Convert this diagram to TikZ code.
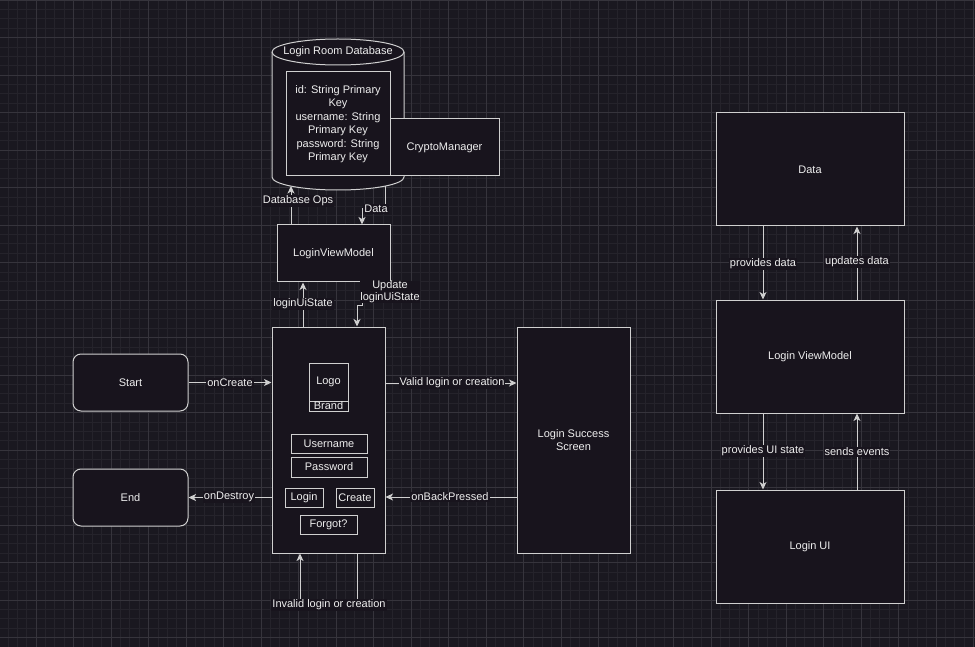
\documentclass[tikz,border=0pt]{standalone}
\usepackage{fontspec}
\setmainfont{Liberation Sans}
\usetikzlibrary{arrows.meta}
\definecolor{canvas}{HTML}{1A1820}
\definecolor{panel}{HTML}{18141D}
\definecolor{fine}{HTML}{25232B}
\definecolor{coarse}{HTML}{36343C}
\definecolor{edge}{HTML}{D0D0D0}
\definecolor{ink}{HTML}{EEEEEE}

\begin{document}
\begin{tikzpicture}[x=1pt,y=-1pt,
  font=\fontsize{11}{13.5}\selectfont,
  box/.style={draw=edge,fill=panel,line width=1pt,text=ink,align=center,inner sep=0pt},
  rbox/.style={box,rounded corners=8pt},
  lbl/.style={fill=panel,text=ink,inner sep=1pt,align=center},
  arr/.style={draw=edge,line width=1pt,-{Stealth[length=7.5pt,width=7pt,inset=2pt]}}]
  \useasboundingbox (0,0) rectangle (975,647);
  \fill[canvas] (0,0) rectangle (975,647);

  % grid
  \foreach \i in {0,...,105} \draw[fine,line width=0.6pt] ({\i*9.375-1.5},0) -- ({\i*9.375-1.5},647);
  \foreach \i in {0,...,70} \draw[fine,line width=0.6pt] (0,{\i*9.375}) -- (975,{\i*9.375});
  \foreach \i in {0,...,26} \draw[coarse,line width=0.8pt] ({\i*37.5-1.5},0) -- ({\i*37.5-1.5},647);
  \foreach \i in {0,...,17} \draw[coarse,line width=0.8pt] (0,{\i*37.5}) -- (975,{\i*37.5});

  % database
  \draw[draw=edge,fill=panel,line width=1pt] (272,52) -- (272,177)
    arc[start angle=180,end angle=0,x radius=66,y radius=13] -- (404,52)
    arc[start angle=0,end angle=-180,x radius=66,y radius=13] -- cycle;
  \draw[edge,line width=1pt] (272,52) arc[start angle=180,end angle=0,x radius=66,y radius=13];
  \node[text=ink] (dbname) at (338,52) {Login Room Database};
  \node[box,minimum width=104,minimum height=104] (fields) at (338,124)
    {id: String Primary\\Key\\username: String\\Primary Key\\password: String\\Primary Key};
  \node[box,minimum width=109,minimum height=57] (crypto) at (444.5,147.5) {CryptoManager};
  \coordinate (dbops) at (291,186);
  \coordinate (dbdata) at (385,186);

  \node[box,minimum width=113,minimum height=57] (lvm) at (333.5,253.5) {LoginViewModel};

  % login screen
  \node[box,minimum width=113,minimum height=226] (screen) at (328.5,440) {};
  \node[box,minimum width=39,minimum height=38] (logo) at (328.5,382) {Logo};
  \node[box,minimum width=39,minimum height=10] (brand) at (328.5,406) {Brand};
  \node[box,minimum width=76,minimum height=19] (user) at (329,443.5) {Username};
  \node[box,minimum width=76,minimum height=20] (pass) at (329,467) {Password};
  \node[box,minimum width=38,minimum height=19] (login) at (304,497.5) {Login};
  \node[box,minimum width=38,minimum height=19] (create) at (355,497.5) {Create};
  \node[box,minimum width=57,minimum height=19] (forgot) at (328.5,524.5) {Forgot?};

  \node[box,minimum width=113,minimum height=226] (success) at (573.5,440) {Login Success\\Screen};
  \node[rbox,minimum width=115,minimum height=57] (start) at (130.5,382.5) {Start};
  \node[rbox,minimum width=115,minimum height=57] (end) at (130.5,497.5) {End};

  % architecture
  \node[box,minimum width=188,minimum height=113] (data) at (810,169.5) {Data};
  \node[box,minimum width=188,minimum height=113] (rvm) at (810,356.5) {Login ViewModel};
  \node[box,minimum width=188,minimum height=113] (ui) at (810,546.5) {Login UI};

  % connectors
  \draw[arr] (lvm.north -| 291,0) -- (dbops);
  \node[lbl] at (298,201) {Database Ops};
  \draw[arr] (dbdata) -- (385,209) -- (362,209) -- (lvm.north -| 362,0);
  \node[lbl] at (376,209) {Data};

  \draw[arr] (screen.north -| 303,0) -- (lvm.south -| 303,0);
  \node[lbl] at (303,304) {loginUiState};
  \draw[arr] (lvm.south -| 362,0) -- (362,305) -- (357,305) -- (screen.north -| 357,0);
  \node[lbl,inner sep=0.3pt] at (390,292) {Update\\[-1.5pt]loginUiState};

  \draw[arr] (start.east) -- (screen.west |- start.east);
  \node[lbl] at (230,383) {onCreate};
  \draw[arr] (screen.west |- end.east) -- (end.east);
  \node[lbl] at (229,497) {onDestroy};

  \draw[arr] (screen.east |- 0,383) -- (success.west |- 0,383);
  \node[lbl] at (452,383) {Valid login or creation};
  \draw[arr] (success.west |- 0,497) -- (screen.east |- 0,497);
  \node[lbl] at (450,497) {onBackPressed};

  \draw[arr] (screen.south -| 357,0) -- (357,605) -- (300,605) -- (screen.south -| 300,0);
  \node[lbl] at (329,605) {Invalid login or creation};

  \draw[arr] (data.south -| 763,0) -- (rvm.north -| 763,0);
  \node[lbl] at (763,264) {provides data};
  \draw[arr] (rvm.north -| 857,0) -- (data.south -| 857,0);
  \node[lbl] at (857,262) {updates data};
  \draw[arr] (rvm.south -| 763,0) -- (ui.north -| 763,0);
  \node[lbl] at (763,451) {provides UI state};
  \draw[arr] (ui.north -| 857,0) -- (rvm.south -| 857,0);
  \node[lbl] at (857,452) {sends events};
\end{tikzpicture}
\end{document}
